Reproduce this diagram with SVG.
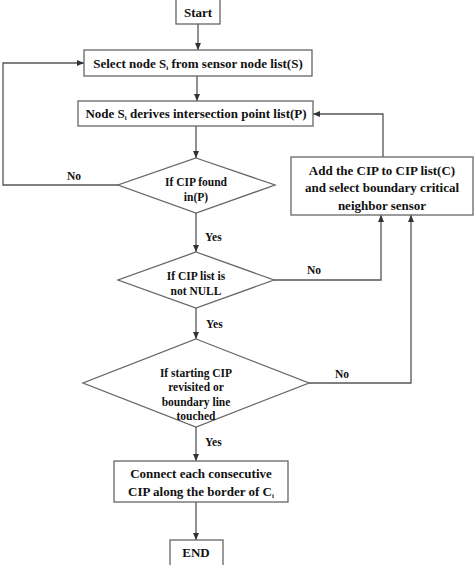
<svg xmlns="http://www.w3.org/2000/svg" width="474" height="565" viewBox="0 0 474 565">
<defs>
<marker id="ah" markerWidth="8" markerHeight="8" refX="7" refY="4" orient="auto" markerUnits="userSpaceOnUse">
<path d="M0,1 L7,4 L0,7 Z" fill="#333"/>
</marker>
<style>
.n{fill:#fff;stroke:#666;stroke-width:1.3}
.c{fill:none;stroke:#555;stroke-width:1.3}
text{font-family:"Liberation Serif","Times New Roman",serif;font-weight:bold;fill:#111;text-anchor:middle}
.t{font-size:13px}
.d{font-size:11.5px}
.l{font-size:11.5px;text-anchor:start}
.s{font-size:7px}
</style>
</defs>
<rect width="474" height="565" fill="#fff"/>
<g id="connectors">
<line class="c" x1="198" y1="24" x2="198" y2="50" marker-end="url(#ah)"/>
<line class="c" x1="197" y1="76" x2="197" y2="101" marker-end="url(#ah)"/>
<line class="c" x1="196" y1="126" x2="196" y2="158" marker-end="url(#ah)"/>
<polyline class="c" points="118,185 3,185 3,63 84,63" marker-end="url(#ah)"/>
<polyline class="c" points="383,157 383,114 313,114" marker-end="url(#ah)"/>
<line class="c" x1="196" y1="213" x2="196" y2="252" marker-end="url(#ah)"/>
<polyline class="c" points="274,280 381,280 381,215" marker-end="url(#ah)"/>
<line class="c" x1="196" y1="308" x2="196" y2="339" marker-end="url(#ah)"/>
<polyline class="c" points="309,383 411,383 411,215" marker-end="url(#ah)"/>
<line class="c" x1="196" y1="427" x2="196" y2="461" marker-end="url(#ah)"/>
<line class="c" x1="196" y1="502" x2="196" y2="540" marker-end="url(#ah)"/>
<text class="l" x="67" y="180">No</text>
<text class="l" x="205" y="241">Yes</text>
<text class="l" x="307" y="274">No</text>
<text class="l" x="206" y="328">Yes</text>
<text class="l" x="335" y="378">No</text>
<text class="l" x="205" y="446">Yes</text>
</g>
<g id="start">
<rect class="n" x="176" y="-1" width="44" height="25"/>
<text class="t" x="198" y="17">Start</text>
</g>
<g id="select">
<rect class="n" x="84" y="50" width="228" height="26"/>
<text class="t" x="198" y="68">Select node S<tspan class="s" dy="2">i</tspan><tspan dy="-2"> from sensor node list(S)</tspan></text>
</g>
<g id="derive">
<rect class="n" x="78" y="101" width="235" height="25"/>
<text class="t" x="196" y="118">Node S<tspan class="s" dy="2">i</tspan><tspan dy="-2"> derives intersection point list(P)</tspan></text>
</g>
<g id="cipfound">
<polygon class="n" points="196,158 275,185 196,213 118,185"/>
<text class="d" x="196" y="186">If CIP found</text>
<text class="d" x="196" y="201">in(P)</text>
</g>
<g id="addcip">
<rect class="n" x="291" y="157" width="182" height="58"/>
<text class="t" x="382" y="175">Add the CIP to CIP list(C)</text>
<text class="t" x="382" y="192">and select boundary critical</text>
<text class="t" x="382" y="210">neighbor sensor</text>
</g>
<g id="notnull">
<polygon class="n" points="196,252 274,280 196,308 118,280"/>
<text class="d" x="196" y="280">If CIP list is</text>
<text class="d" x="196" y="295">not NULL</text>
</g>
<g id="revisited">
<polygon class="n" points="196,339 309,383 196,427 83,383"/>
<text class="d" x="196" y="377">If starting CIP</text>
<text class="d" x="196" y="391">revisited or</text>
<text class="d" x="196" y="406">boundary line</text>
<text class="d" x="196" y="420">touched</text>
</g>
<g id="connect">
<rect class="n" x="114" y="461" width="174" height="41"/>
<text class="t" x="201" y="478">Connect each consecutive</text>
<text class="t" x="201" y="496">CIP along the border of C<tspan class="s" dy="2">i</tspan></text>
</g>
<g id="end">
<rect class="n" x="170" y="540" width="53" height="27"/>
<text class="t" x="196" y="557">END</text>
</g>
</svg>
